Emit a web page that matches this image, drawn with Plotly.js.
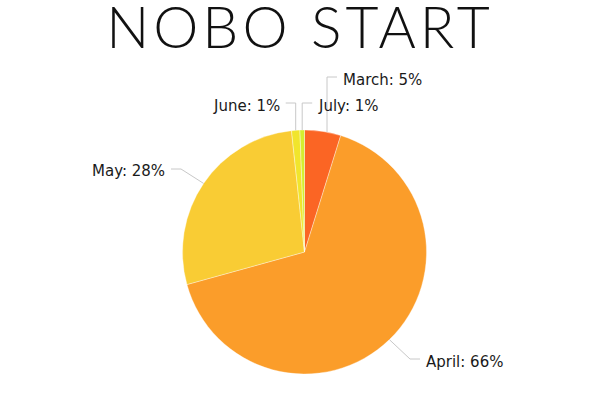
<!DOCTYPE html>
<html>
<head>
<meta charset="utf-8">
<script src="https://cdn.plot.ly/plotly-3.0.1.min.js"></script>
<style>
html,body{margin:0;padding:0;background:#fff;}
#chart{width:600px;height:401px;}
#chart .gtitle{letter-spacing:4px;}
</style>
</head>
<body>
<div id="chart"></div>
<script>
// ---- data ----
var months = ["March", "April", "May", "June", "July"];
var shares = [4.8, 65.9, 27.6, 1.1, 0.6];
var sliceColors = ["#fb6524", "#fb9d2a", "#f9cc34", "#f1e52c", "#d5ee2e"];
var chartTitle = "NOBO START";

// ---- layout constants (pixels) ----
var W = 600, H = 401;
var cx = 304.5, cy = 252, R = 122;
// elbow point and side for each label's leader line
var labelStyle = [
  {ex: 327, ey: 77,  side: "right", vertical: true},
  {ex: 410, ey: 359, side: "right"},
  {ex: 181, ey: 169, side: "left"},
  {ey: 103, side: "left",  vertical: true},
  {ey: 103, side: "right", vertical: true}
];

var total = shares.reduce(function(a, b){ return a + b; }, 0);
var shapes = [], annotations = [];
var acc = 0;
shares.forEach(function(v, i){
  var mid = (acc + v / 2) / total * 2 * Math.PI; // clockwise from 12 o'clock
  acc += v;
  var sx = cx + R * Math.sin(mid), sy = cy - R * Math.cos(mid);
  var st = labelStyle[i];
  var ex, ey = st.ey;
  if (st.vertical) {
    if (st.ex !== undefined) { sx = st.ex; sy = cy - Math.sqrt(R * R - (sx - cx) * (sx - cx)); }
    ex = sx;
  } else {
    ex = st.ex;
  }
  var dir = st.side === "right" ? 1 : -1;
  var hx = ex + dir * 10;
  var lineStyle = {color: "#c8c8c8", width: 1};
  shapes.push({type: "line", xref: "paper", yref: "paper",
    x0: sx / W, y0: 1 - sy / H, x1: ex / W, y1: 1 - ey / H, line: lineStyle});
  shapes.push({type: "line", xref: "paper", yref: "paper",
    x0: ex / W, y0: 1 - ey / H, x1: hx / W, y1: 1 - ey / H, line: lineStyle});
  var pct = Math.round(v / total * 100);
  annotations.push({xref: "paper", yref: "paper",
    x: (hx + dir * 4) / W, y: 1 - (ey + 2.5) / H,
    xanchor: st.side === "right" ? "left" : "right", yanchor: "middle",
    text: months[i] + ": " + pct + "%", showarrow: false,
    font: {family: "DejaVu Sans, Verdana, sans-serif", size: 15, color: "#1a1a1a"}});
});

var trace = {
  type: "pie",
  labels: months,
  values: shares,
  sort: false,
  direction: "clockwise",
  rotation: 0,
  textinfo: "none",
  hoverinfo: "label+percent",
  marker: {colors: sliceColors, line: {color: "rgba(255,255,255,0.6)", width: 0.6}},
  domain: {x: [(cx - R) / W, (cx + R) / W], y: [1 - (cy + R) / H, 1 - (cy - R) / H]},
  showlegend: false
};

var layout = {
  width: W, height: H,
  margin: {l: 0, r: 0, t: 0, b: 0},
  paper_bgcolor: "#fff",
  plot_bgcolor: "#fff",
  showlegend: false,
  title: {text: chartTitle, x: 0.5, xanchor: "center", y: 1 - 28 / H, yref: "container", yanchor: "middle",
    font: {family: "Lato, 'Open Sans', sans-serif", size: 57, weight: 300, color: "#111"}},
  shapes: shapes,
  annotations: annotations
};

Plotly.newPlot("chart", [trace], layout, {displayModeBar: false, staticPlot: true});
</script>
</body>
</html>
